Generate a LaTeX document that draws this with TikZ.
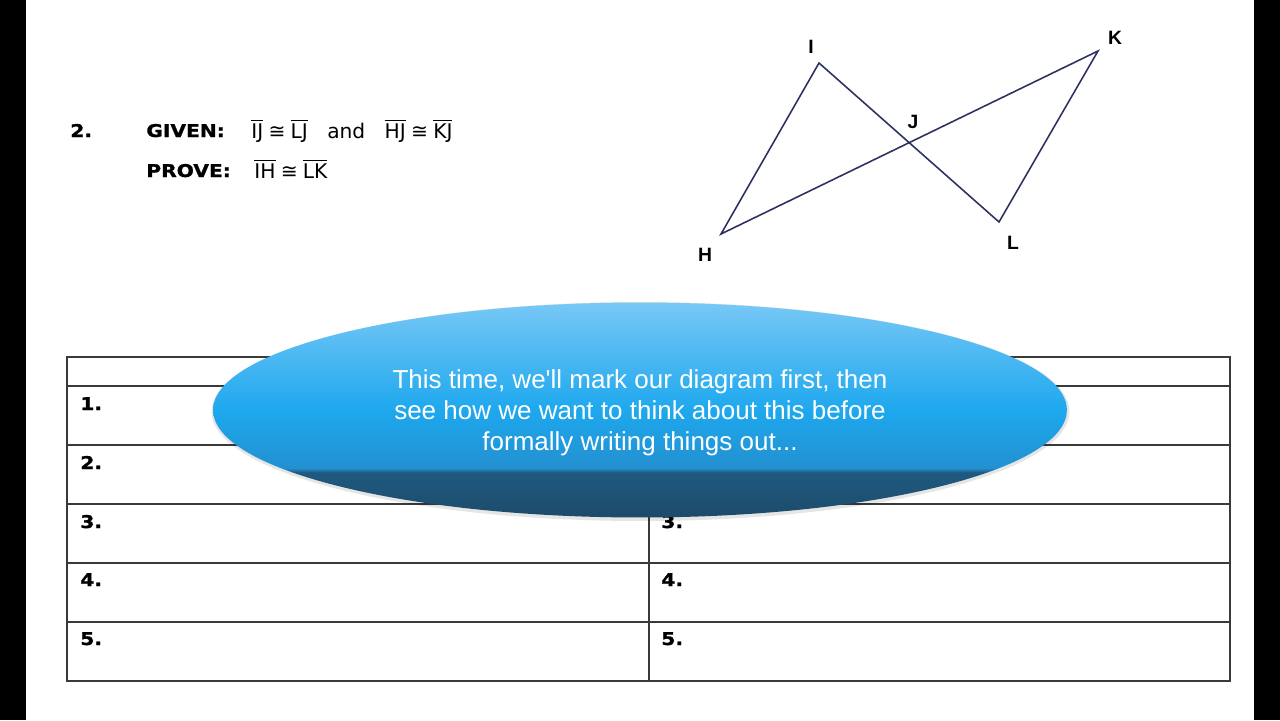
\documentclass[tikz,border=0pt]{standalone}
\usepackage{fontspec}
\setmainfont{DejaVu Sans}
\newfontfamily\headfont[FakeStretch=1.15,FakeBold=1.2]{DejaVu Sans}
\newfontfamily\labfont{Liberation Sans}
\usepackage{tikz}

\definecolor{lineblue}{HTML}{2E3262}
\definecolor{gridgray}{HTML}{3A3A3A}
\definecolor{bubbleTop}{HTML}{78C8F6}
\definecolor{bubbleMid}{HTML}{1EA8EE}
\definecolor{bubbleLow}{HTML}{2290D0}
\definecolor{bubbleDark}{HTML}{1C4B69}
\definecolor{bubbleDarkTop}{HTML}{1F5A80}

\pgfdeclareverticalshading{bubble}{100bp}{color(0bp)=(bubbleDark); color(25bp)=(bubbleDark);
  color(35.5bp)=(bubbleDarkTop); color(36.5bp)=(bubbleLow); color(50bp)=(bubbleMid);
  color(75bp)=(bubbleTop); color(100bp)=(bubbleTop)}

\newcommand{\seg}[1]{$\overline{\mbox{#1}}$}

\begin{document}
\begin{tikzpicture}[x=0.02cm, y=-0.02cm,
  bold text/.style={font=\headfont\bfseries\fontsize{10pt}{12pt}\selectfont},
  seg text/.style={font=\fontsize{11.5pt}{12pt}\selectfont},
  vertex label/.style={font=\labfont\bfseries\fontsize{11pt}{12pt}\selectfont, inner sep=0pt},
  side/.style={draw=lineblue, line width=0.9pt},
  grid/.style={draw=gridgray, line width=0.7pt}]
\useasboundingbox (0,0) rectangle (1280,720);
\fill[white] (0,0) rectangle (1280,720);
\fill[black] (0,0) rectangle (26,720);
\fill[black] (1254,0) rectangle (1280,720);

% problem statement
\node[bold text, anchor=base west, inner sep=0pt] (num) at (70,137) {2.};
\node[bold text, anchor=base west, inner sep=0pt] (given) at (146,137) {GIVEN:};
\node[seg text, anchor=base west, inner sep=0pt] (givenseg) at (251,138)
  {\seg{IJ}\hspace{3pt}≅\hspace{3pt}\seg{LJ}\hspace{11pt}and\hspace{11pt}\seg{HJ}\hspace{3pt}≅\hspace{3pt}\seg{KJ}};
\node[bold text, anchor=base west, inner sep=0pt] (prove) at (146,177) {PROVE:};
\node[seg text, anchor=base west, inner sep=0pt] (proveseg) at (254,178)
  {\seg{IH}\hspace{3pt}≅\hspace{3pt}\seg{LK}};

% the figure
\coordinate (H) at (721,234);
\coordinate (I) at (819,63);
\coordinate (J) at (909,143);
\coordinate (K) at (1098,51);
\coordinate (L) at (999,222);
\draw[side] (H) -- (I) -- (L) -- (K) -- cycle;
\node[vertex label] (labI) at (811,47) {I};
\node[vertex label] (labJ) at (913,122) {J};
\node[vertex label] (labK) at (1115,38) {K};
\node[vertex label] (labH) at (705,255) {H};
\node[vertex label] (labL) at (1013,243) {L};

% the table
\draw[grid] (67,357) rectangle (1230,681);
\foreach \y in {386, 445, 504, 563, 622} {
	\draw[grid] (67,\y) -- (1230,\y);
}
\draw[grid] (649,357) -- (649,681);
\foreach \n/\y in {1/410, 2/469, 3/528, 4/586, 5/645} {
	\node[bold text, anchor=base west, inner sep=0pt] (left\n) at (80,\y) {\n.};
}
\foreach \n/\y in {3/528, 4/586, 5/645} {
	\node[bold text, anchor=base west, inner sep=0pt] (right\n) at (661,\y) {\n.};
}

% the speech bubble
\fill[black, opacity=0.1] (640.5,411.5) ellipse [x radius=8.58cm, y radius=2.19cm];
\shade[shading=bubble] (640,410) ellipse [x radius=8.54cm, y radius=2.15cm];
\node[font=\labfont\fontsize{14.8pt}{17.6pt}\selectfont, text=white, align=center, inner sep=0pt]
  (note) at (640,413)
  {This time, we'll mark our diagram first, then\\
   see how we want to think about this before\\
   formally writing things out...};
\end{tikzpicture}
\end{document}
